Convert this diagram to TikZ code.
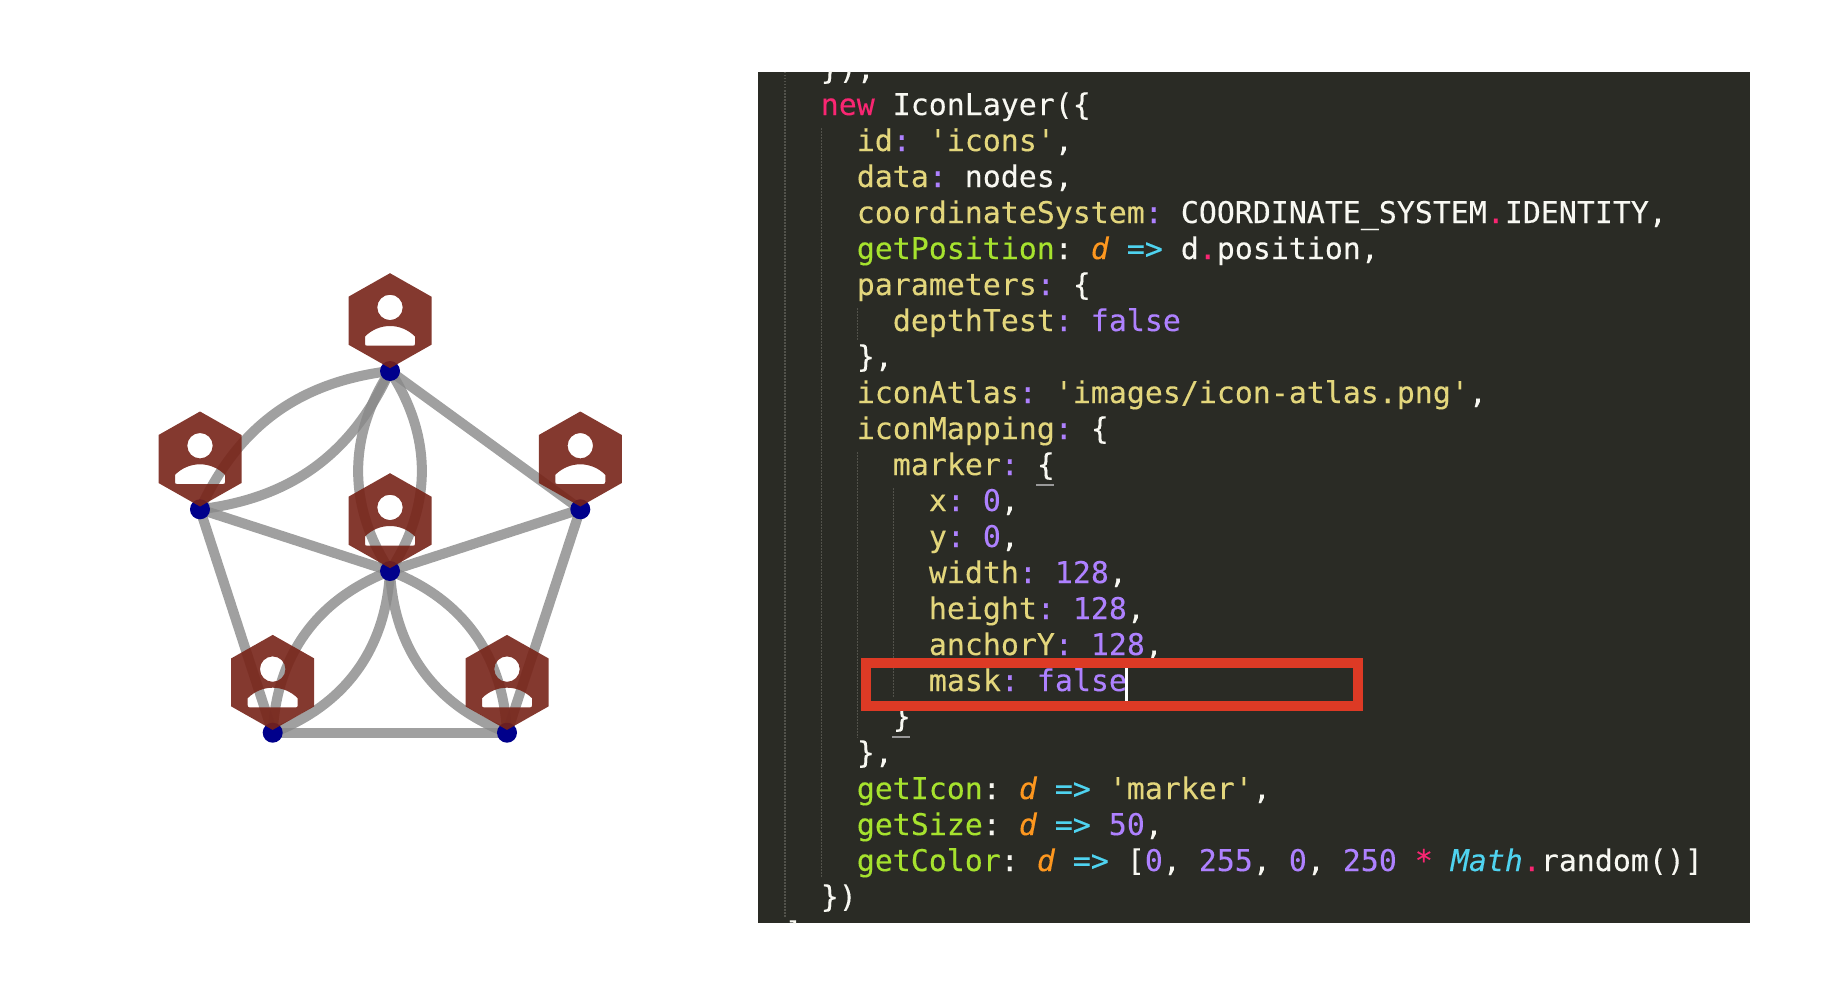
\documentclass[tikz,border=0pt]{standalone}
\usepackage{fontspec}
\usepackage{xcolor}
\usepackage{tikz}
\usetikzlibrary{backgrounds}
\setmonofont[ItalicFont={DejaVu Sans Mono Oblique},FakeBold=0.2]{DejaVu Sans Mono}

\definecolor{edgegray}{HTML}{888888}
\definecolor{dotblue}{HTML}{00008B}
\definecolor{hexred}{HTML}{772318}
\definecolor{panelbg}{HTML}{2A2B25}
\definecolor{guidegray}{HTML}{52524B}
\definecolor{plaintext}{HTML}{F8F8F2}
\definecolor{keyyellow}{HTML}{E3D67C}
\definecolor{fnreen}{HTML}{A6E22E}
\definecolor{argorange}{HTML}{FD971F}
\definecolor{opcyan}{HTML}{4FD3F0}
\definecolor{numpurple}{HTML}{AE81FF}
\definecolor{kwpink}{HTML}{F92672}
\definecolor{boxred}{HTML}{DD3A25}

\newcommand{\ky}[1]{\textcolor{keyyellow}{#1}\textcolor{numpurple}{:}}
\newcommand{\fn}[1]{\textcolor{fnreen}{#1}:}
\newcommand{\st}[1]{\textcolor{keyyellow}{#1}}
\newcommand{\nm}[1]{\textcolor{numpurple}{#1}}
\newcommand{\dt}{\textcolor{kwpink}{.}}
\newcommand{\arrowd}{\textcolor{argorange}{\itshape d} \textcolor{opcyan}{=>}}

\tikzset{
    edgeline/.style={draw=edgegray, draw opacity=0.8, line width=10pt},
    graphdot/.style={circle, fill=dotblue, inner sep=0pt, minimum size=20pt},
    codeline/.style={anchor=base west, inner sep=0pt, text=plaintext,
        font=\ttfamily\fontsize{29.9}{36}\selectfont},
    guide/.style={draw=guidegray, line width=1.5pt, dash pattern=on 1.5pt off 1.5pt},
    bracemark/.style={draw=gray!80, line width=2pt},
    usericon/.pic={
        % hexagon with the person cut out, so the edges show through
        \fill[hexred, fill opacity=0.9, even odd rule]
            (0,-97.8) -- (41.5,-74.3) -- (41.5,-26.3) -- (0,-2.8)
            -- (-41.5,-26.3) -- (-41.5,-74.3) -- cycle
            (0,-63.6) circle[radius=12.7pt]
            (-25,-34.5) .. controls (-18,-41.5) and (-9,-45) .. (0,-45)
            .. controls (9,-45) and (18,-41.5) .. (25,-34.5)
            -- (25,-27.3) .. controls (25,-25.8) and (24.5,-25.3) .. (23,-25.3)
            -- (-23,-25.3) .. controls (-24.5,-25.3) and (-25,-25.8) .. (-25,-27.3) -- cycle;
    }
}

\begin{document}
\begin{tikzpicture}[x=1pt, y=-1pt]
    \useasboundingbox (0,0) rectangle (1832,982);

    % graph
    \node[graphdot] (top) at (390,371) {};
    \node[graphdot] (left) at (200,509.3) {};
    \node[graphdot] (right) at (580.3,509.3) {};
    \node[graphdot] (mid) at (390,571) {};
    \node[graphdot] (botleft) at (272.7,732.7) {};
    \node[graphdot] (botright) at (507,732.7) {};

    \begin{scope}[on background layer]
        \draw[edgeline] (top.center) to[bend right=29] (left.center);
        \draw[edgeline] (top.center) to[bend left=29] (left.center);
        \draw[edgeline] (top.center) to[bend right=33] (mid.center);
        \draw[edgeline] (top.center) to[bend left=33] (mid.center);
        \draw[edgeline] (mid.center) to[bend right=33] (botleft.center);
        \draw[edgeline] (mid.center) to[bend left=33] (botleft.center);
        \draw[edgeline] (mid.center) to[bend right=33] (botright.center);
        \draw[edgeline] (mid.center) to[bend left=33] (botright.center);
        \draw[edgeline] (top.center) -- (right.center);
        \draw[edgeline] (left.center) -- (mid.center);
        \draw[edgeline] (right.center) -- (mid.center);
        \draw[edgeline] (left.center) -- (botleft.center);
        \draw[edgeline] (right.center) -- (botright.center);
        \draw[edgeline] (botleft.center) -- (botright.center);
    \end{scope}

    \foreach \n in {top,left,right,mid,botleft,botright}
        \pic (icon\n) at (\n) {usericon};

    % code panel
    \fill[panelbg] (757.7,72) rectangle (1750,923);
    \begin{scope}
        \clip (757.7,72) rectangle (1750,923);
        \draw[guide] (785,72) -- (785,917);
        \draw[guide] (821.5,128) -- (821.5,878);
        \draw[guide] (857.5,308) -- (857.5,340);
        \draw[guide] (857.5,452) -- (857.5,738);
        \draw[guide] (893.5,488) -- (893.5,698);

        \foreach \i/\ind/\txt in {
            0/4/{\}),},
            1/4/{\textcolor{kwpink}{new} IconLayer(\{},
            2/6/{\ky{id} \st{'icons'},},
            3/6/{\ky{data} nodes,},
            4/6/{\ky{coordinateSystem} COORDINATE\_SYSTEM\dt IDENTITY,},
            5/6/{\fn{getPosition} \arrowd{} d\dt position,},
            6/6/{\ky{parameters} \{},
            7/8/{\ky{depthTest} \nm{false}},
            8/6/{\},},
            9/6/{\ky{iconAtlas} \st{'images/icon-atlas.png'},},
            10/6/{\ky{iconMapping} \{},
            11/8/{\ky{marker} \{},
            12/10/{\ky{x} \nm{0},},
            13/10/{\ky{y} \nm{0},},
            14/10/{\ky{width} \nm{128},},
            15/10/{\ky{height} \nm{128},},
            16/10/{\ky{anchorY} \nm{128},},
            17/10/{\ky{mask} \nm{false}},
            18/8/{\}},
            19/6/{\},},
            20/6/{\fn{getIcon} \arrowd{} \st{'marker'},},
            21/6/{\fn{getSize} \arrowd{} \nm{50},},
            22/6/{\fn{getColor} \arrowd{} [\nm{0}, \nm{255}, \nm{0}, \nm{250} \textcolor{kwpink}{*} \textcolor{opcyan}{\itshape Math}\dt random()]},
            23/4/{\})},
            24/2/{],}
        }
            \node[codeline] (line\i) at (748.5+18.02*\ind,79+36*\i) {\txt};
    \end{scope}

    \draw[bracemark] (1036,485) -- (1054,485);
    \draw[bracemark] (892,737) -- (910,737);

    % highlight and cursor
    \fill[white] (1124.7,668) rectangle (1127.7,701);
    \node[draw=boxred, line width=10pt, inner sep=0pt, minimum width=492pt, minimum height=43pt] (highlight) at (1112,684.5) {};
\end{tikzpicture}
\end{document}
